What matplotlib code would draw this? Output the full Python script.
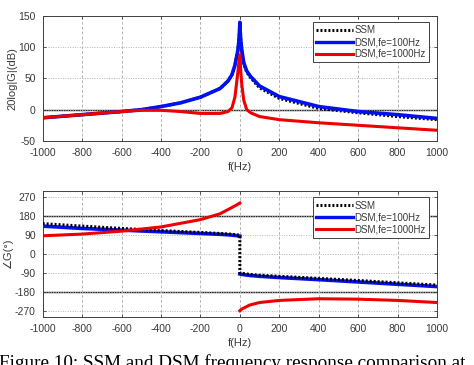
import matplotlib
matplotlib.use('Agg')
import matplotlib.pyplot as plt
import numpy as np
from matplotlib.lines import Line2D

plt.rcParams['font.family'] = ['Liberation Sans', 'DejaVu Sans']
plt.rcParams['axes.unicode_minus'] = False

# magnitude (dB), left side f<0 and right side f>0
f_neg = [-1000, -800, -600, -500, -400, -300, -200, -100, -60, -40, -25, -10, -5, -2, 0]
f_pos = [0, 2, 5, 10, 20, 35, 55, 100, 200, 400, 600, 800, 1000]

mag_dsm100_neg = [-13, -8, -3, 0, 5, 11, 20, 34, 46, 56, 71, 95, 110, 125, 140]
mag_dsm100_pos = [140, 125, 110, 95, 75, 62, 53, 38, 21, 5, -3, -8, -14]
mag_ssm_neg = [-13, -8, -3, 0, 5, 11, 20, 34, 46, 56, 71, 95, 110, 125, 138]
mag_ssm_pos = [138, 124, 109, 94, 74, 60, 51, 35, 18, 2, -5, -11, -16]
mag_dsm1000_neg = [-13, -8, -3, -1, -1, -3, -6, -6, -3, 3, 20, 60, 75, 84, 88]
mag_dsm1000_pos = [88, 80, 60, 40, 15, 0, -5, -11, -16, -21, -25, -29, -33]

# phase (deg)
ph_f_neg = [-1000, -800, -600, -400, -200, -100, -50, -20, 0]
ph_f_pos = [0, 10, 35, 50, 100, 200, 400, 600, 800, 1000]

ph_dsm100_neg = [133, 122, 114, 106, 98, 94, 91, 88, 85]
ph_dsm100_pos = [-95, -97, -100, -102, -106, -112, -122, -133, -144, -155]
ph_ssm_neg = [145, 133, 122, 112, 103, 98, 95, 92, 90]
ph_ssm_pos = [-90, -92, -95, -97, -101, -106, -116, -126, -137, -148]
ph_dsm1000_neg = [87, 95, 109, 129, 164, 192, 217, 232, 243]
ph_dsm1000_pos = [-270, -262, -250, -243, -231, -221, -213, -215, -221, -231]

grid_c = '#b5b5b5'
txt_c = '#3a3a3a'
blue = '#0010ee'
red = '#ee0000'
ssm_ls = (0, (0.65, 0.65))

fig = plt.figure(figsize=(4.74, 3.65), dpi=100)
ax1 = fig.add_axes([0.090, 0.614, 0.832, 0.342])
ax2 = fig.add_axes([0.090, 0.1315, 0.832, 0.345])


def style_axes(ax):
    ax.set_xlim(-1000, 1000)
    ax.set_xticks(np.arange(-1000, 1001, 200))
    ax.tick_params(direction='in', length=2.5, width=0.6, labelsize=7.5,
                   colors=txt_c, top=True, right=True, pad=5)
    ax.grid(True, axis='x', color=grid_c, lw=0.7, ls=(0, (3, 2)))
    ax.grid(True, axis='y', color=grid_c, lw=0.7, ls=(0, (1, 1.5)))
    for s in ax.spines.values():
        s.set_color('#404040')
        s.set_linewidth(0.7)
    ax.set_xlabel('f(Hz)', fontsize=8, color=txt_c, labelpad=3)


# ---- magnitude
ax = ax1
style_axes(ax)
ax.axhline(0, color='#202020', lw=1.0, zorder=1)
ax.plot(f_neg + f_pos, mag_ssm_neg + mag_ssm_pos, color='black', lw=2.2,
        ls=ssm_ls, zorder=2)
ax.plot(f_neg + f_pos, mag_dsm100_neg + mag_dsm100_pos, color=blue, lw=2.6, zorder=3)
ax.plot(f_neg + f_pos, mag_dsm1000_neg + mag_dsm1000_pos, color=red, lw=2.2, zorder=4)
ax.set_ylim(-50, 150)
ax.set_yticks([-50, 0, 50, 100, 150])
ax.set_ylabel('20log|G|(dB)', fontsize=8, color=txt_c, labelpad=1)

# ---- phase
ax = ax2
style_axes(ax)
ax.axhline(180, color='#202020', lw=1.0, zorder=1)
ax.axhline(-180, color='#202020', lw=1.0, zorder=1)
ax.plot(ph_f_neg, ph_dsm100_neg, color=blue, lw=2.6, zorder=2)
ax.plot(ph_f_pos, ph_dsm100_pos, color=blue, lw=2.6, zorder=2)
ax.plot(ph_f_neg + ph_f_pos, ph_ssm_neg + ph_ssm_pos, color='black', lw=2.2,
        ls=ssm_ls, zorder=3)
ax.plot(ph_f_neg, ph_dsm1000_neg, color=red, lw=2.2, zorder=4)
ax.plot(ph_f_pos, ph_dsm1000_pos, color=red, lw=2.2, zorder=4)
ax.set_ylim(-300, 300)
ax.set_yticks([-270, -180, -90, 0, 90, 180, 270])
ax.set_ylabel('\u2220G(\u00b0)', fontsize=8, color=txt_c, labelpad=1)

# legends
handles = [Line2D([], [], color='black', lw=2.2, ls=ssm_ls),
           Line2D([], [], color=blue, lw=2.4),
           Line2D([], [], color=red, lw=2.2)]
labels = ['SSM', 'DSM,fe=100Hz', 'DSM,fe=1000Hz']
for ax, anchor in [(ax1, (0.98, 0.955)), (ax2, (0.98, 0.95))]:
    leg = ax.legend(handles, labels, loc='upper right', bbox_to_anchor=anchor,
                    fontsize=7, handlelength=3.8, handletextpad=0.15,
                    labelspacing=0.2, borderpad=0.35, borderaxespad=0,
                    fancybox=False, framealpha=1, edgecolor='#404040')
    leg.get_frame().set_linewidth(0.7)
    for t in leg.get_texts():
        t.set_color(txt_c)

fig.text(-0.003, 1 - 354 / 365, 'Figure 10: SSM and DSM frequency response comparison at',
         fontsize=13.8, family=['Liberation Serif', 'DejaVu Serif'], va='top', ha='left')

fig.savefig('out.png', dpi=100)
